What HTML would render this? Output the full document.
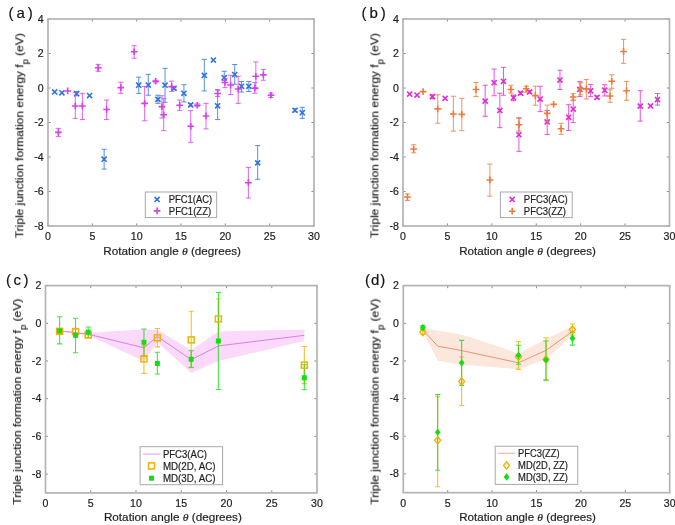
<!DOCTYPE html>
<html><head><meta charset="utf-8"><title>Triple junction formation energy</title>
<style>html,body{margin:0;padding:0;background:#fff;}body{width:675px;height:525px;overflow:hidden;font-family:"Liberation Sans",sans-serif;}svg{display:block;filter:blur(0.3px);} text{will-change:transform;stroke:#1e1e1e;stroke-width:0.2px;}</style>
</head><body>
<svg width="675" height="525" viewBox="0 0 675 525" font-family="Liberation Sans, sans-serif">
<rect width="675" height="525" fill="#fff"/>
<path d="M76.64 91.45L76.64 95.76M74.04 91.45L79.24 91.45M74.04 95.76L79.24 95.76" stroke="#2f74dc" stroke-width="1.0" fill="none" opacity="0.8"/><path d="M104.13 149.24L104.13 169.07M101.53 149.24L106.73 149.24M101.53 169.07L106.73 169.07" stroke="#2f74dc" stroke-width="1.0" fill="none" opacity="0.8"/><path d="M138.71 77.13L138.71 93.35M136.11 77.13L141.31 77.13M136.11 93.35L141.31 93.35" stroke="#2f74dc" stroke-width="1.0" fill="none" opacity="0.8"/><path d="M148.28 74.37L148.28 95.24M145.68 74.37L150.88 74.37M145.68 95.24L150.88 95.24" stroke="#2f74dc" stroke-width="1.0" fill="none" opacity="0.8"/><path d="M157.95 95.24L157.95 103.35M155.35 95.24L160.55 95.24M155.35 103.35L160.55 103.35" stroke="#2f74dc" stroke-width="1.0" fill="none" opacity="0.8"/><path d="M165.04 68.34L165.04 102.32M162.44 68.34L167.64 68.34M162.44 102.32L167.64 102.32" stroke="#2f74dc" stroke-width="1.0" fill="none" opacity="0.8"/><path d="M174 87.14L174 89.72M171.4 87.14L176.6 87.14M171.4 89.72L176.6 89.72" stroke="#2f74dc" stroke-width="1.0" fill="none" opacity="0.8"/><path d="M183.93 84.72L183.93 101.97M181.33 84.72L186.53 84.72M181.33 101.97L186.53 101.97" stroke="#2f74dc" stroke-width="1.0" fill="none" opacity="0.8"/><path d="M190.66 103.53L190.66 106.11M188.06 103.53L193.26 103.53M188.06 106.11L193.26 106.11" stroke="#2f74dc" stroke-width="1.0" fill="none" opacity="0.8"/><path d="M204.32 59.37L204.32 90.93M201.72 59.37L206.92 59.37M201.72 90.93L206.92 90.93" stroke="#2f74dc" stroke-width="1.0" fill="none" opacity="0.8"/><path d="M217.62 89.72L217.62 119.57M215.02 89.72L220.22 89.72M215.02 119.57L220.22 119.57" stroke="#2f74dc" stroke-width="1.0" fill="none" opacity="0.8"/><path d="M224.27 71.27L224.27 80.58M221.67 71.27L226.87 71.27M221.67 80.58L226.87 80.58" stroke="#2f74dc" stroke-width="1.0" fill="none" opacity="0.8"/><path d="M234.73 64.54L234.73 84.2M232.13 64.54L237.33 64.54M232.13 84.2L237.33 84.2" stroke="#2f74dc" stroke-width="1.0" fill="none" opacity="0.8"/><path d="M241.56 81.44L241.56 91.97M238.96 81.44L244.16 81.44M238.96 91.97L244.16 91.97" stroke="#2f74dc" stroke-width="1.0" fill="none" opacity="0.8"/><path d="M248.83 81.44L248.83 91.45M246.23 81.44L251.43 81.44M246.23 91.45L251.43 91.45" stroke="#2f74dc" stroke-width="1.0" fill="none" opacity="0.8"/><path d="M257.7 145.62L257.7 179.25M255.1 145.62L260.3 145.62M255.1 179.25L260.3 179.25" stroke="#2f74dc" stroke-width="1.0" fill="none" opacity="0.8"/><path d="M295.03 108.7L295.03 111.81M292.43 108.7L297.63 108.7M292.43 111.81L297.63 111.81" stroke="#2f74dc" stroke-width="1.0" fill="none" opacity="0.8"/><path d="M302.3 107.32L302.3 118.36M299.7 107.32L304.9 107.32M299.7 118.36L304.9 118.36" stroke="#2f74dc" stroke-width="1.0" fill="none" opacity="0.8"/><path d="M52.1 89.42L57.2 94.52M52.1 94.52L57.2 89.42" stroke="#2f74dc" stroke-width="1.6" fill="none"/><path d="M59.37 90.28L64.47 95.38M59.37 95.38L64.47 90.28" stroke="#2f74dc" stroke-width="1.6" fill="none"/><path d="M74.09 91.14L79.19 96.24M74.09 96.24L79.19 91.14" stroke="#2f74dc" stroke-width="1.6" fill="none"/><path d="M87.03 93.04L92.13 98.14M87.03 98.14L92.13 93.04" stroke="#2f74dc" stroke-width="1.6" fill="none"/><path d="M101.58 156.69L106.68 161.79M101.58 161.79L106.68 156.69" stroke="#2f74dc" stroke-width="1.6" fill="none"/><path d="M136.16 82.69L141.26 87.79M136.16 87.79L141.26 82.69" stroke="#2f74dc" stroke-width="1.6" fill="none"/><path d="M145.73 82.52L150.83 87.62M145.73 87.62L150.83 82.52" stroke="#2f74dc" stroke-width="1.6" fill="none"/><path d="M155.4 96.84L160.5 101.94M155.4 101.94L160.5 96.84" stroke="#2f74dc" stroke-width="1.6" fill="none"/><path d="M162.49 82.69L167.59 87.79M162.49 87.79L167.59 82.69" stroke="#2f74dc" stroke-width="1.6" fill="none"/><path d="M171.45 85.79L176.55 90.89M171.45 90.89L176.55 85.79" stroke="#2f74dc" stroke-width="1.6" fill="none"/><path d="M181.38 90.8L186.48 95.9M181.38 95.9L186.48 90.8" stroke="#2f74dc" stroke-width="1.6" fill="none"/><path d="M188.11 102.36L193.21 107.46M188.11 107.46L193.21 102.36" stroke="#2f74dc" stroke-width="1.6" fill="none"/><path d="M201.77 72.86L206.87 77.96M201.77 77.96L206.87 72.86" stroke="#2f74dc" stroke-width="1.6" fill="none"/><path d="M210.81 57.51L215.91 62.6M210.81 62.6L215.91 57.51" stroke="#2f74dc" stroke-width="1.6" fill="none"/><path d="M215.07 103.22L220.17 108.32M215.07 108.32L220.17 103.22" stroke="#2f74dc" stroke-width="1.6" fill="none"/><path d="M221.72 75.1L226.82 80.2M221.72 80.2L226.82 75.1" stroke="#2f74dc" stroke-width="1.6" fill="none"/><path d="M232.18 71.99L237.28 77.09M232.18 77.09L237.28 71.99" stroke="#2f74dc" stroke-width="1.6" fill="none"/><path d="M239.01 83.72L244.11 88.82M239.01 88.82L244.11 83.72" stroke="#2f74dc" stroke-width="1.6" fill="none"/><path d="M246.28 83.72L251.38 88.82M246.28 88.82L251.38 83.72" stroke="#2f74dc" stroke-width="1.6" fill="none"/><path d="M255.15 160.31L260.25 165.41M255.15 165.41L260.25 160.31" stroke="#2f74dc" stroke-width="1.6" fill="none"/><path d="M292.48 107.7L297.58 112.8M292.48 112.8L297.58 107.7" stroke="#2f74dc" stroke-width="1.6" fill="none"/><path d="M299.75 110.12L304.85 115.22M299.75 115.22L304.85 110.12" stroke="#2f74dc" stroke-width="1.6" fill="none"/>
<path d="M58.37 128.37L58.37 136.64M55.77 128.37L60.97 128.37M55.77 136.64L60.97 136.64" stroke="#d63ff0" stroke-width="1.0" fill="none" opacity="0.8"/><path d="M75.31 92.66L75.31 118.36M72.71 92.66L77.91 92.66M72.71 118.36L77.91 118.36" stroke="#d63ff0" stroke-width="1.0" fill="none" opacity="0.8"/><path d="M82.4 93.35L82.4 119.57M79.8 93.35L85 93.35M79.8 119.57L85 119.57" stroke="#d63ff0" stroke-width="1.0" fill="none" opacity="0.8"/><path d="M98.19 64.37L98.19 71.27M95.59 64.37L100.79 64.37M95.59 71.27L100.79 71.27" stroke="#d63ff0" stroke-width="1.0" fill="none" opacity="0.8"/><path d="M106.61 100.08L106.61 119.57M104.01 100.08L109.21 100.08M104.01 119.57L109.21 119.57" stroke="#d63ff0" stroke-width="1.0" fill="none" opacity="0.8"/><path d="M120.8 82.13L120.8 93.35M118.2 82.13L123.4 82.13M118.2 93.35L123.4 93.35" stroke="#d63ff0" stroke-width="1.0" fill="none" opacity="0.8"/><path d="M134.18 45.74L134.18 58.16M131.58 45.74L136.78 45.74M131.58 58.16L136.78 58.16" stroke="#d63ff0" stroke-width="1.0" fill="none" opacity="0.8"/><path d="M144.65 86.45L144.65 120.78M142.05 86.45L147.25 86.45M142.05 120.78L147.25 120.78" stroke="#d63ff0" stroke-width="1.0" fill="none" opacity="0.8"/><path d="M155.64 80.24L155.64 82.83M153.04 80.24L158.24 80.24M153.04 82.83L158.24 82.83" stroke="#d63ff0" stroke-width="1.0" fill="none" opacity="0.8"/><path d="M161.94 95.76L161.94 118.02M159.34 95.76L164.54 95.76M159.34 118.02L164.54 118.02" stroke="#d63ff0" stroke-width="1.0" fill="none" opacity="0.8"/><path d="M163.71 98.7L163.71 130.61M161.11 98.7L166.31 98.7M161.11 130.61L166.31 130.61" stroke="#d63ff0" stroke-width="1.0" fill="none" opacity="0.8"/><path d="M171.69 81.1L171.69 91.45M169.09 81.1L174.29 81.1M169.09 91.45L174.29 91.45" stroke="#d63ff0" stroke-width="1.0" fill="none" opacity="0.8"/><path d="M179.67 100.08L179.67 110.42M177.07 100.08L182.27 100.08M177.07 110.42L182.27 110.42" stroke="#d63ff0" stroke-width="1.0" fill="none" opacity="0.8"/><path d="M190.75 110.6L190.75 142.34M188.15 110.6L193.35 110.6M188.15 142.34L193.35 142.34" stroke="#d63ff0" stroke-width="1.0" fill="none" opacity="0.8"/><path d="M197.31 103.87L197.31 106.63M194.71 103.87L199.91 103.87M194.71 106.63L199.91 106.63" stroke="#d63ff0" stroke-width="1.0" fill="none" opacity="0.8"/><path d="M206 103.35L206 128.88M203.4 103.35L208.6 103.35M203.4 128.88L208.6 128.88" stroke="#d63ff0" stroke-width="1.0" fill="none" opacity="0.8"/><path d="M217.62 90.07L217.62 96.62M215.02 90.07L220.22 90.07M215.02 96.62L220.22 96.62" stroke="#d63ff0" stroke-width="1.0" fill="none" opacity="0.8"/><path d="M224.89 78.51L224.89 87.66M222.29 78.51L227.49 78.51M222.29 87.66L227.49 87.66" stroke="#d63ff0" stroke-width="1.0" fill="none" opacity="0.8"/><path d="M230.65 75.23L230.65 94.55M228.05 75.23L233.25 75.23M228.05 94.55L233.25 94.55" stroke="#d63ff0" stroke-width="1.0" fill="none" opacity="0.8"/><path d="M238.19 76.27L238.19 103.35M235.59 76.27L240.79 76.27M235.59 103.35L240.79 103.35" stroke="#d63ff0" stroke-width="1.0" fill="none" opacity="0.8"/><path d="M248.39 167.35L248.39 198.05M245.79 167.35L250.99 167.35M245.79 198.05L250.99 198.05" stroke="#d63ff0" stroke-width="1.0" fill="none" opacity="0.8"/><path d="M254.86 82.48L254.86 93.35M252.26 82.48L257.46 82.48M252.26 93.35L257.46 93.35" stroke="#d63ff0" stroke-width="1.0" fill="none" opacity="0.8"/><path d="M255.83 61.95L255.83 88.86M253.23 61.95L258.43 61.95M253.23 88.86L258.43 88.86" stroke="#d63ff0" stroke-width="1.0" fill="none" opacity="0.8"/><path d="M263.37 69.54L263.37 80.24M260.77 69.54L265.97 69.54M260.77 80.24L265.97 80.24" stroke="#d63ff0" stroke-width="1.0" fill="none" opacity="0.8"/><path d="M271 93.17L271 97.49M268.4 93.17L273.6 93.17M268.4 97.49L273.6 97.49" stroke="#d63ff0" stroke-width="1.0" fill="none" opacity="0.8"/><path d="M55.02 132.33L61.72 132.33M58.37 128.98L58.37 135.68" stroke="#d63ff0" stroke-width="1.6" fill="none"/><path d="M64.33 90.93L71.03 90.93M67.68 87.58L67.68 94.28" stroke="#d63ff0" stroke-width="1.6" fill="none"/><path d="M71.96 105.94L78.66 105.94M75.31 102.59L75.31 109.29" stroke="#d63ff0" stroke-width="1.6" fill="none"/><path d="M79.05 105.94L85.75 105.94M82.4 102.59L82.4 109.29" stroke="#d63ff0" stroke-width="1.6" fill="none"/><path d="M94.84 67.82L101.54 67.82M98.19 64.47L98.19 71.17" stroke="#d63ff0" stroke-width="1.6" fill="none"/><path d="M103.26 109.56L109.96 109.56M106.61 106.21L106.61 112.91" stroke="#d63ff0" stroke-width="1.6" fill="none"/><path d="M117.45 87.66L124.15 87.66M120.8 84.31L120.8 91" stroke="#d63ff0" stroke-width="1.6" fill="none"/><path d="M130.83 51.77L137.53 51.77M134.18 48.42L134.18 55.12" stroke="#d63ff0" stroke-width="1.6" fill="none"/><path d="M141.3 103.35L148 103.35M144.65 100L144.65 106.7" stroke="#d63ff0" stroke-width="1.6" fill="none"/><path d="M152.29 81.27L158.99 81.27M155.64 77.92L155.64 84.62" stroke="#d63ff0" stroke-width="1.6" fill="none"/><path d="M158.59 106.63L165.29 106.63M161.94 103.28L161.94 109.98" stroke="#d63ff0" stroke-width="1.6" fill="none"/><path d="M160.36 114.74L167.06 114.74M163.71 111.39L163.71 118.09" stroke="#d63ff0" stroke-width="1.6" fill="none"/><path d="M168.34 86.62L175.04 86.62M171.69 83.27L171.69 89.97" stroke="#d63ff0" stroke-width="1.6" fill="none"/><path d="M176.32 105.25L183.02 105.25M179.67 101.9L179.67 108.6" stroke="#d63ff0" stroke-width="1.6" fill="none"/><path d="M187.4 126.3L194.1 126.3M190.75 122.95L190.75 129.65" stroke="#d63ff0" stroke-width="1.6" fill="none"/><path d="M193.96 105.25L200.66 105.25M197.31 101.9L197.31 108.6" stroke="#d63ff0" stroke-width="1.6" fill="none"/><path d="M202.65 115.94L209.35 115.94M206 112.59L206 119.29" stroke="#d63ff0" stroke-width="1.6" fill="none"/><path d="M214.27 93.52L220.97 93.52M217.62 90.17L217.62 96.87" stroke="#d63ff0" stroke-width="1.6" fill="none"/><path d="M221.54 82.48L228.24 82.48M224.89 79.13L224.89 85.83" stroke="#d63ff0" stroke-width="1.6" fill="none"/><path d="M227.3 85.07L234 85.07M230.65 81.72L230.65 88.42" stroke="#d63ff0" stroke-width="1.6" fill="none"/><path d="M234.84 89.03L241.54 89.03M238.19 85.69L238.19 92.38" stroke="#d63ff0" stroke-width="1.6" fill="none"/><path d="M245.04 182.7L251.74 182.7M248.39 179.35L248.39 186.05" stroke="#d63ff0" stroke-width="1.6" fill="none"/><path d="M251.51 88.17L258.21 88.17M254.86 84.82L254.86 91.52" stroke="#d63ff0" stroke-width="1.6" fill="none"/><path d="M252.48 76.27L259.18 76.27M255.83 72.92L255.83 79.62" stroke="#d63ff0" stroke-width="1.6" fill="none"/><path d="M260.02 74.89L266.72 74.89M263.37 71.54L263.37 78.24" stroke="#d63ff0" stroke-width="1.6" fill="none"/><path d="M267.65 95.24L274.35 95.24M271 91.89L271 98.59" stroke="#d63ff0" stroke-width="1.6" fill="none"/>
<g stroke="#8c8c8c" stroke-width="1"><line x1="48" y1="226" x2="48" y2="223.4"/><line x1="48" y1="19" x2="48" y2="21.6"/><line x1="92.33" y1="226" x2="92.33" y2="223.4"/><line x1="92.33" y1="19" x2="92.33" y2="21.6"/><line x1="136.67" y1="226" x2="136.67" y2="223.4"/><line x1="136.67" y1="19" x2="136.67" y2="21.6"/><line x1="181" y1="226" x2="181" y2="223.4"/><line x1="181" y1="19" x2="181" y2="21.6"/><line x1="225.33" y1="226" x2="225.33" y2="223.4"/><line x1="225.33" y1="19" x2="225.33" y2="21.6"/><line x1="269.67" y1="226" x2="269.67" y2="223.4"/><line x1="269.67" y1="19" x2="269.67" y2="21.6"/><line x1="314" y1="226" x2="314" y2="223.4"/><line x1="314" y1="19" x2="314" y2="21.6"/><line x1="48" y1="19" x2="50.6" y2="19"/><line x1="314" y1="19" x2="311.4" y2="19"/><line x1="48" y1="53.5" x2="50.6" y2="53.5"/><line x1="314" y1="53.5" x2="311.4" y2="53.5"/><line x1="48" y1="88" x2="50.6" y2="88"/><line x1="314" y1="88" x2="311.4" y2="88"/><line x1="48" y1="122.5" x2="50.6" y2="122.5"/><line x1="314" y1="122.5" x2="311.4" y2="122.5"/><line x1="48" y1="157" x2="50.6" y2="157"/><line x1="314" y1="157" x2="311.4" y2="157"/><line x1="48" y1="191.5" x2="50.6" y2="191.5"/><line x1="314" y1="191.5" x2="311.4" y2="191.5"/><line x1="48" y1="226" x2="50.6" y2="226"/><line x1="314" y1="226" x2="311.4" y2="226"/></g>
<rect x="48" y="19" width="266" height="207" fill="none" stroke="#b4b4b4" stroke-width="1.7"/>
<g font-size="10.6" fill="#1e1e1e"><text x="43.6" y="22.6" text-anchor="end">4</text><text x="43.6" y="57.1" text-anchor="end">2</text><text x="43.6" y="91.6" text-anchor="end">0</text><text x="43.6" y="126.1" text-anchor="end"><tspan dy="-0.8">-</tspan><tspan dy="0.8">2</tspan></text><text x="43.6" y="160.6" text-anchor="end"><tspan dy="-0.8">-</tspan><tspan dy="0.8">4</tspan></text><text x="43.6" y="195.1" text-anchor="end"><tspan dy="-0.8">-</tspan><tspan dy="0.8">6</tspan></text><text x="43.6" y="229.6" text-anchor="end"><tspan dy="-0.8">-</tspan><tspan dy="0.8">8</tspan></text><text x="48" y="240" text-anchor="middle">0</text><text x="92.33" y="240" text-anchor="middle">5</text><text x="136.67" y="240" text-anchor="middle">10</text><text x="181" y="240" text-anchor="middle">15</text><text x="225.33" y="240" text-anchor="middle">20</text><text x="269.67" y="240" text-anchor="middle">25</text><text x="314" y="240" text-anchor="middle">30</text></g>
<text x="103.3" y="255.2" font-size="11.4" fill="#1e1e1e" textLength="137.7" lengthAdjust="spacingAndGlyphs">Rotation angle <tspan font-family="Liberation Serif" font-style="italic">&#952;</tspan> (degrees)</text>
<text transform="translate(23.3 238.2) rotate(-90)" font-size="11.4" fill="#1e1e1e" textLength="204.9" lengthAdjust="spacingAndGlyphs">Triple junction formation energy f<tspan dy="4.8" font-size="9">p</tspan><tspan dy="-4.8"> (eV)</tspan></text>
<rect x="145.3" y="192" width="71.4" height="25.6" fill="#fff" stroke="#a8a8a8" stroke-width="1"/>
<path d="M154.55 196.85L159.65 201.95M154.55 201.95L159.65 196.85" stroke="#2f74dc" stroke-width="1.6" fill="none"/>
<path d="M153.75 210.9L160.45 210.9M157.1 207.55L157.1 214.25" stroke="#d63ff0" stroke-width="1.6" fill="none"/>
<text x="168.8" y="203" font-size="10" fill="#1e1e1e" textLength="43.4" lengthAdjust="spacingAndGlyphs">PFC1(AC)</text>
<text x="168.8" y="214.5" font-size="10" fill="#1e1e1e" textLength="42.4" lengthAdjust="spacingAndGlyphs">PFC1(ZZ)</text>
<path d="M432.4 94.9L432.4 98.7M429.8 94.9L435 94.9M429.8 98.7L435 98.7" stroke="#e02ad6" stroke-width="1.0" fill="none" opacity="0.8"/><path d="M485.17 85.24L485.17 116.29M482.57 85.24L487.77 85.24M482.57 116.29L487.77 116.29" stroke="#e02ad6" stroke-width="1.0" fill="none" opacity="0.8"/><path d="M494.14 69.03L494.14 95.76M491.54 69.03L496.74 69.03M491.54 95.76L496.74 95.76" stroke="#e02ad6" stroke-width="1.0" fill="none" opacity="0.8"/><path d="M499.83 93.17L499.83 127.67M497.23 93.17L502.43 93.17M497.23 127.67L502.43 127.67" stroke="#e02ad6" stroke-width="1.0" fill="none" opacity="0.8"/><path d="M503.47 67.3L503.47 95.24M500.87 67.3L506.07 67.3M500.87 95.24L506.07 95.24" stroke="#e02ad6" stroke-width="1.0" fill="none" opacity="0.8"/><path d="M513.51 95.07L513.51 100.77M510.91 95.07L516.11 95.07M510.91 100.77L516.11 100.77" stroke="#e02ad6" stroke-width="1.0" fill="none" opacity="0.8"/><path d="M518.93 118.19L518.93 151.31M516.33 118.19L521.53 118.19M516.33 151.31L521.53 151.31" stroke="#e02ad6" stroke-width="1.0" fill="none" opacity="0.8"/><path d="M520.62 91.8L520.62 94.55M518.02 91.8L523.22 91.8M518.02 94.55L523.22 94.55" stroke="#e02ad6" stroke-width="1.0" fill="none" opacity="0.8"/><path d="M529.59 90.59L529.59 93.35M526.99 90.59L532.19 90.59M526.99 93.35L532.19 93.35" stroke="#e02ad6" stroke-width="1.0" fill="none" opacity="0.8"/><path d="M540.16 86.27L540.16 111.63M537.56 86.27L542.76 86.27M537.56 111.63L542.76 111.63" stroke="#e02ad6" stroke-width="1.0" fill="none" opacity="0.8"/><path d="M547.18 110.42L547.18 134.57M544.58 110.42L549.78 110.42M544.58 134.57L549.78 134.57" stroke="#e02ad6" stroke-width="1.0" fill="none" opacity="0.8"/><path d="M559.97 70.23L559.97 89.38M557.37 70.23L562.57 70.23M557.37 89.38L562.57 89.38" stroke="#e02ad6" stroke-width="1.0" fill="none" opacity="0.8"/><path d="M568.67 104.73L568.67 130.44M566.07 104.73L571.27 104.73M566.07 130.44L571.27 130.44" stroke="#e02ad6" stroke-width="1.0" fill="none" opacity="0.8"/><path d="M573.2 100.08L573.2 122.67M570.6 100.08L575.8 100.08M570.6 122.67L575.8 122.67" stroke="#e02ad6" stroke-width="1.0" fill="none" opacity="0.8"/><path d="M579.87 81.62L579.87 96.62M577.27 81.62L582.47 81.62M577.27 96.62L582.47 96.62" stroke="#e02ad6" stroke-width="1.0" fill="none" opacity="0.8"/><path d="M590.62 84.38L590.62 96.62M588.02 84.38L593.22 84.38M588.02 96.62L593.22 96.62" stroke="#e02ad6" stroke-width="1.0" fill="none" opacity="0.8"/><path d="M597.01 95.94L597.01 98.7M594.41 95.94L599.61 95.94M594.41 98.7L599.61 98.7" stroke="#e02ad6" stroke-width="1.0" fill="none" opacity="0.8"/><path d="M604.74 84.72L604.74 95.94M602.14 84.72L607.34 84.72M602.14 95.94L607.34 95.94" stroke="#e02ad6" stroke-width="1.0" fill="none" opacity="0.8"/><path d="M640.27 90.76L640.27 121.12M637.67 90.76L642.87 90.76M637.67 121.12L642.87 121.12" stroke="#e02ad6" stroke-width="1.0" fill="none" opacity="0.8"/><path d="M657.51 93.52L657.51 105.08M654.91 93.52L660.11 93.52M654.91 105.08L660.11 105.08" stroke="#e02ad6" stroke-width="1.0" fill="none" opacity="0.8"/><path d="M407.11 91.49L412.21 96.59M407.11 96.59L412.21 91.49" stroke="#e02ad6" stroke-width="1.6" fill="none"/><path d="M414.49 92.52L419.59 97.62M414.49 97.62L419.59 92.52" stroke="#e02ad6" stroke-width="1.6" fill="none"/><path d="M429.85 94.08L434.95 99.17M429.85 99.17L434.95 94.08" stroke="#e02ad6" stroke-width="1.6" fill="none"/><path d="M442.56 95.8L447.66 100.9M442.56 100.9L447.66 95.8" stroke="#e02ad6" stroke-width="1.6" fill="none"/><path d="M482.62 98.56L487.72 103.66M482.62 103.66L487.72 98.56" stroke="#e02ad6" stroke-width="1.6" fill="none"/><path d="M491.59 80.1L496.69 85.2M491.59 85.2L496.69 80.1" stroke="#e02ad6" stroke-width="1.6" fill="none"/><path d="M497.28 107.88L502.38 112.97M497.28 112.97L502.38 107.88" stroke="#e02ad6" stroke-width="1.6" fill="none"/><path d="M500.92 78.72L506.02 83.82M500.92 83.82L506.02 78.72" stroke="#e02ad6" stroke-width="1.6" fill="none"/><path d="M510.96 95.11L516.06 100.21M510.96 100.21L516.06 95.11" stroke="#e02ad6" stroke-width="1.6" fill="none"/><path d="M516.38 132.2L521.48 137.3M516.38 137.3L521.48 132.2" stroke="#e02ad6" stroke-width="1.6" fill="none"/><path d="M518.07 90.62L523.17 95.72M518.07 95.72L523.17 90.62" stroke="#e02ad6" stroke-width="1.6" fill="none"/><path d="M527.04 89.42L532.14 94.52M527.04 94.52L532.14 89.42" stroke="#e02ad6" stroke-width="1.6" fill="none"/><path d="M537.61 96.49L542.71 101.59M537.61 101.59L542.71 96.49" stroke="#e02ad6" stroke-width="1.6" fill="none"/><path d="M544.63 119.43L549.73 124.53M544.63 124.53L549.73 119.43" stroke="#e02ad6" stroke-width="1.6" fill="none"/><path d="M557.42 77.52L562.52 82.61M557.42 82.61L562.52 77.52" stroke="#e02ad6" stroke-width="1.6" fill="none"/><path d="M566.12 114.78L571.22 119.88M566.12 119.88L571.22 114.78" stroke="#e02ad6" stroke-width="1.6" fill="none"/><path d="M570.65 106.5L575.75 111.59M570.65 111.59L575.75 106.5" stroke="#e02ad6" stroke-width="1.6" fill="none"/><path d="M577.32 86.83L582.42 91.93M577.32 91.93L582.42 86.83" stroke="#e02ad6" stroke-width="1.6" fill="none"/><path d="M588.07 88.21L593.17 93.31M588.07 93.31L593.17 88.21" stroke="#e02ad6" stroke-width="1.6" fill="none"/><path d="M594.46 94.77L599.56 99.86M594.46 99.86L599.56 94.77" stroke="#e02ad6" stroke-width="1.6" fill="none"/><path d="M602.19 87.69L607.29 92.79M602.19 92.79L607.29 87.69" stroke="#e02ad6" stroke-width="1.6" fill="none"/><path d="M637.72 103.56L642.82 108.66M637.72 108.66L642.82 103.56" stroke="#e02ad6" stroke-width="1.6" fill="none"/><path d="M648.03 103.39L653.13 108.49M648.03 108.49L653.13 103.39" stroke="#e02ad6" stroke-width="1.6" fill="none"/><path d="M654.96 97.01L660.06 102.11M654.96 102.11L660.06 97.01" stroke="#e02ad6" stroke-width="1.6" fill="none"/>
<path d="M407.44 193.91L407.44 200.47M404.84 193.91L410.04 193.91M404.84 200.47L410.04 200.47" stroke="#ef7a3a" stroke-width="1.0" fill="none" opacity="0.8"/><path d="M413.66 144.75L413.66 152.86M411.06 144.75L416.26 144.75M411.06 152.86L416.26 152.86" stroke="#ef7a3a" stroke-width="1.0" fill="none" opacity="0.8"/><path d="M437.73 94.73L437.73 123.19M435.13 94.73L440.33 94.73M435.13 123.19L440.33 123.19" stroke="#ef7a3a" stroke-width="1.0" fill="none" opacity="0.8"/><path d="M453.37 96.28L453.37 131.12M450.77 96.28L455.97 96.28M450.77 131.12L455.97 131.12" stroke="#ef7a3a" stroke-width="1.0" fill="none" opacity="0.8"/><path d="M461.81 98.35L461.81 130.61M459.21 98.35L464.41 98.35M459.21 130.61L464.41 130.61" stroke="#ef7a3a" stroke-width="1.0" fill="none" opacity="0.8"/><path d="M476.02 82.48L476.02 96.62M473.42 82.48L478.62 82.48M473.42 96.62L478.62 96.62" stroke="#ef7a3a" stroke-width="1.0" fill="none" opacity="0.8"/><path d="M489.88 164.07L489.88 196.16M487.28 164.07L492.48 164.07M487.28 196.16L492.48 196.16" stroke="#ef7a3a" stroke-width="1.0" fill="none" opacity="0.8"/><path d="M510.84 85.24L510.84 93.17M508.24 85.24L513.44 85.24M508.24 93.17L513.44 93.17" stroke="#ef7a3a" stroke-width="1.0" fill="none" opacity="0.8"/><path d="M518.93 117.67L518.93 131.12M516.33 117.67L521.53 117.67M516.33 131.12L521.53 131.12" stroke="#ef7a3a" stroke-width="1.0" fill="none" opacity="0.8"/><path d="M526.21 86.27L526.21 92.31M523.61 86.27L528.81 86.27M523.61 92.31L528.81 92.31" stroke="#ef7a3a" stroke-width="1.0" fill="none" opacity="0.8"/><path d="M535.36 86.27L535.36 105.25M532.76 86.27L537.96 86.27M532.76 105.25L537.96 105.25" stroke="#ef7a3a" stroke-width="1.0" fill="none" opacity="0.8"/><path d="M547.18 105.08L547.18 121.64M544.58 105.08L549.78 105.08M544.58 121.64L549.78 121.64" stroke="#ef7a3a" stroke-width="1.0" fill="none" opacity="0.8"/><path d="M561.12 123.36L561.12 134.4M558.52 123.36L563.72 123.36M558.52 134.4L563.72 134.4" stroke="#ef7a3a" stroke-width="1.0" fill="none" opacity="0.8"/><path d="M573.2 93.69L573.2 100.59M570.6 93.69L575.8 93.69M570.6 100.59L575.8 100.59" stroke="#ef7a3a" stroke-width="1.0" fill="none" opacity="0.8"/><path d="M580.67 82.83L580.67 94.9M578.07 82.83L583.27 82.83M578.07 94.9L583.27 94.9" stroke="#ef7a3a" stroke-width="1.0" fill="none" opacity="0.8"/><path d="M586.35 79.55L586.35 99.04M583.75 79.55L588.95 79.55M583.75 99.04L588.95 99.04" stroke="#ef7a3a" stroke-width="1.0" fill="none" opacity="0.8"/><path d="M610.07 89.72L610.07 102.32M607.47 89.72L612.67 89.72M607.47 102.32L612.67 102.32" stroke="#ef7a3a" stroke-width="1.0" fill="none" opacity="0.8"/><path d="M611.76 74.72L611.76 88.34M609.16 74.72L614.36 74.72M609.16 88.34L614.36 88.34" stroke="#ef7a3a" stroke-width="1.0" fill="none" opacity="0.8"/><path d="M623.57 39.36L623.57 63.33M620.97 39.36L626.17 39.36M620.97 63.33L626.17 63.33" stroke="#ef7a3a" stroke-width="1.0" fill="none" opacity="0.8"/><path d="M626.5 81.44L626.5 100.25M623.9 81.44L629.1 81.44M623.9 100.25L629.1 100.25" stroke="#ef7a3a" stroke-width="1.0" fill="none" opacity="0.8"/><path d="M404.09 197.02L410.79 197.02M407.44 193.67L407.44 200.37" stroke="#ef7a3a" stroke-width="1.6" fill="none"/><path d="M410.31 149.06L417.01 149.06M413.66 145.72L413.66 152.41" stroke="#ef7a3a" stroke-width="1.6" fill="none"/><path d="M419.73 91.62L426.43 91.62M423.08 88.27L423.08 94.97" stroke="#ef7a3a" stroke-width="1.6" fill="none"/><path d="M434.38 108.87L441.08 108.87M437.73 105.52L437.73 112.22" stroke="#ef7a3a" stroke-width="1.6" fill="none"/><path d="M450.02 114.05L456.72 114.05M453.37 110.7L453.37 117.4" stroke="#ef7a3a" stroke-width="1.6" fill="none"/><path d="M458.46 114.39L465.16 114.39M461.81 111.04L461.81 117.74" stroke="#ef7a3a" stroke-width="1.6" fill="none"/><path d="M472.67 89.55L479.37 89.55M476.02 86.2L476.02 92.9" stroke="#ef7a3a" stroke-width="1.6" fill="none"/><path d="M486.53 179.94L493.23 179.94M489.88 176.59L489.88 183.29" stroke="#ef7a3a" stroke-width="1.6" fill="none"/><path d="M507.49 89.55L514.19 89.55M510.84 86.2L510.84 92.9" stroke="#ef7a3a" stroke-width="1.6" fill="none"/><path d="M515.58 124.74L522.28 124.74M518.93 121.39L518.93 128.09" stroke="#ef7a3a" stroke-width="1.6" fill="none"/><path d="M522.86 88.69L529.56 88.69M526.21 85.34L526.21 92.04" stroke="#ef7a3a" stroke-width="1.6" fill="none"/><path d="M532.01 95.59L538.71 95.59M535.36 92.24L535.36 98.94" stroke="#ef7a3a" stroke-width="1.6" fill="none"/><path d="M543.83 113.36L550.53 113.36M547.18 110.01L547.18 116.71" stroke="#ef7a3a" stroke-width="1.6" fill="none"/><path d="M550.31 104.39L557.01 104.39M553.66 101.04L553.66 107.74" stroke="#ef7a3a" stroke-width="1.6" fill="none"/><path d="M557.77 128.71L564.47 128.71M561.12 125.36L561.12 132.06" stroke="#ef7a3a" stroke-width="1.6" fill="none"/><path d="M569.85 96.97L576.55 96.97M573.2 93.62L573.2 100.32" stroke="#ef7a3a" stroke-width="1.6" fill="none"/><path d="M577.32 88.69L584.02 88.69M580.67 85.34L580.67 92.04" stroke="#ef7a3a" stroke-width="1.6" fill="none"/><path d="M583 88.86L589.7 88.86M586.35 85.51L586.35 92.21" stroke="#ef7a3a" stroke-width="1.6" fill="none"/><path d="M606.72 95.94L613.42 95.94M610.07 92.59L610.07 99.28" stroke="#ef7a3a" stroke-width="1.6" fill="none"/><path d="M608.41 81.27L615.11 81.27M611.76 77.92L611.76 84.62" stroke="#ef7a3a" stroke-width="1.6" fill="none"/><path d="M620.22 51.43L626.92 51.43M623.57 48.08L623.57 54.78" stroke="#ef7a3a" stroke-width="1.6" fill="none"/><path d="M623.15 90.76L629.85 90.76M626.5 87.41L626.5 94.11" stroke="#ef7a3a" stroke-width="1.6" fill="none"/>
<g stroke="#8c8c8c" stroke-width="1"><line x1="403" y1="226" x2="403" y2="223.4"/><line x1="403" y1="19" x2="403" y2="21.6"/><line x1="447.42" y1="226" x2="447.42" y2="223.4"/><line x1="447.42" y1="19" x2="447.42" y2="21.6"/><line x1="491.83" y1="226" x2="491.83" y2="223.4"/><line x1="491.83" y1="19" x2="491.83" y2="21.6"/><line x1="536.25" y1="226" x2="536.25" y2="223.4"/><line x1="536.25" y1="19" x2="536.25" y2="21.6"/><line x1="580.67" y1="226" x2="580.67" y2="223.4"/><line x1="580.67" y1="19" x2="580.67" y2="21.6"/><line x1="625.08" y1="226" x2="625.08" y2="223.4"/><line x1="625.08" y1="19" x2="625.08" y2="21.6"/><line x1="669.5" y1="226" x2="669.5" y2="223.4"/><line x1="669.5" y1="19" x2="669.5" y2="21.6"/><line x1="403" y1="19" x2="405.6" y2="19"/><line x1="669.5" y1="19" x2="666.9" y2="19"/><line x1="403" y1="53.5" x2="405.6" y2="53.5"/><line x1="669.5" y1="53.5" x2="666.9" y2="53.5"/><line x1="403" y1="88" x2="405.6" y2="88"/><line x1="669.5" y1="88" x2="666.9" y2="88"/><line x1="403" y1="122.5" x2="405.6" y2="122.5"/><line x1="669.5" y1="122.5" x2="666.9" y2="122.5"/><line x1="403" y1="157" x2="405.6" y2="157"/><line x1="669.5" y1="157" x2="666.9" y2="157"/><line x1="403" y1="191.5" x2="405.6" y2="191.5"/><line x1="669.5" y1="191.5" x2="666.9" y2="191.5"/><line x1="403" y1="226" x2="405.6" y2="226"/><line x1="669.5" y1="226" x2="666.9" y2="226"/></g>
<rect x="403" y="19" width="266.5" height="207" fill="none" stroke="#b4b4b4" stroke-width="1.7"/>
<g font-size="10.6" fill="#1e1e1e"><text x="399" y="22.6" text-anchor="end">4</text><text x="399" y="57.1" text-anchor="end">2</text><text x="399" y="91.6" text-anchor="end">0</text><text x="399" y="126.1" text-anchor="end"><tspan dy="-0.8">-</tspan><tspan dy="0.8">2</tspan></text><text x="399" y="160.6" text-anchor="end"><tspan dy="-0.8">-</tspan><tspan dy="0.8">4</tspan></text><text x="399" y="195.1" text-anchor="end"><tspan dy="-0.8">-</tspan><tspan dy="0.8">6</tspan></text><text x="399" y="229.6" text-anchor="end"><tspan dy="-0.8">-</tspan><tspan dy="0.8">8</tspan></text><text x="403" y="240" text-anchor="middle">0</text><text x="447.42" y="240" text-anchor="middle">5</text><text x="491.83" y="240" text-anchor="middle">10</text><text x="536.25" y="240" text-anchor="middle">15</text><text x="580.67" y="240" text-anchor="middle">20</text><text x="625.08" y="240" text-anchor="middle">25</text><text x="669.5" y="240" text-anchor="middle">30</text></g>
<text x="459.2" y="255.2" font-size="11.4" fill="#1e1e1e" textLength="136.8" lengthAdjust="spacingAndGlyphs">Rotation angle <tspan font-family="Liberation Serif" font-style="italic">&#952;</tspan> (degrees)</text>
<text transform="translate(378.4 238.2) rotate(-90)" font-size="11.4" fill="#1e1e1e" textLength="204.9" lengthAdjust="spacingAndGlyphs">Triple junction formation energy f<tspan dy="4.8" font-size="9">p</tspan><tspan dy="-4.8"> (eV)</tspan></text>
<rect x="500.4" y="192" width="71.8" height="25.6" fill="#fff" stroke="#a8a8a8" stroke-width="1"/>
<path d="M509.65 196.85L514.75 201.95M509.65 201.95L514.75 196.85" stroke="#e02ad6" stroke-width="1.6" fill="none"/>
<path d="M508.85 211.2L515.55 211.2M512.2 207.85L512.2 214.55" stroke="#ef7a3a" stroke-width="1.6" fill="none"/>
<text x="523.8" y="203" font-size="10" fill="#1e1e1e" textLength="44" lengthAdjust="spacingAndGlyphs">PFC3(AC)</text>
<text x="523.8" y="214.8" font-size="10" fill="#1e1e1e" textLength="42.2" lengthAdjust="spacingAndGlyphs">PFC3(ZZ)</text>
<polygon points="59.62,330.45 75.55,331.77 88.22,333.09 143.96,329.32 157.36,330.08 191.21,350.05 218.36,331.39 304.33,329.51 304.33,341.01 218.36,360.98 191.21,373.04 157.36,342.14 143.96,361.36 88.22,335.35 75.55,333.66 59.62,331.21" fill="#fbd9fa" stroke="none"/>
<polyline points="59.62,330.83 75.55,332.71 88.22,334.22 143.96,347.79 157.36,336.48 191.21,359.66 218.36,345.91 304.33,335.35" fill="none" stroke="#da80e4" stroke-width="1.0"/>
<path d="M59.62 328.94L59.62 333.66M57.02 328.94L62.22 328.94M57.02 333.66L62.22 333.66" stroke="#f2b000" stroke-width="1.1" fill="none" opacity="0.8"/><path d="M75.55 328.94L75.55 334.6M72.95 328.94L78.15 328.94M72.95 334.6L78.15 334.6" stroke="#f2b000" stroke-width="1.1" fill="none" opacity="0.8"/><path d="M88.22 331.77L88.22 337.43M85.62 331.77L90.82 331.77M85.62 337.43L90.82 337.43" stroke="#f2b000" stroke-width="1.1" fill="none" opacity="0.8"/><path d="M143.96 345.91L143.96 373.42M141.36 345.91L146.56 345.91M141.36 373.42L146.56 373.42" stroke="#f2b000" stroke-width="1.1" fill="none" opacity="0.8"/><path d="M157.36 328.57L157.36 346.85M154.76 328.57L159.96 328.57M154.76 346.85L159.96 346.85" stroke="#f2b000" stroke-width="1.1" fill="none" opacity="0.8"/><path d="M191.21 311.23L191.21 367.77M188.61 311.23L193.81 311.23M188.61 367.77L193.81 367.77" stroke="#f2b000" stroke-width="1.1" fill="none" opacity="0.8"/><path d="M218.36 298.98L218.36 342.14M215.76 298.98L220.96 298.98M215.76 342.14L220.96 342.14" stroke="#f2b000" stroke-width="1.1" fill="none" opacity="0.8"/><path d="M304.33 346.47L304.33 383.6M301.73 346.47L306.93 346.47M301.73 383.6L306.93 383.6" stroke="#f2b000" stroke-width="1.1" fill="none" opacity="0.8"/><path d="M59.62 316.69L59.62 343.83M57.02 316.69L62.22 316.69M57.02 343.83L62.22 343.83" stroke="#10e010" stroke-width="1.1" fill="none" opacity="0.8"/><path d="M75.55 318.2L75.55 352.69M72.95 318.2L78.15 318.2M72.95 352.69L78.15 352.69" stroke="#10e010" stroke-width="1.1" fill="none" opacity="0.8"/><path d="M88.22 327.06L88.22 337.43M85.62 327.06L90.82 327.06M85.62 337.43L90.82 337.43" stroke="#10e010" stroke-width="1.1" fill="none" opacity="0.8"/><path d="M143.96 328.94L143.96 356.27M141.36 328.94L146.56 328.94M141.36 356.27L146.56 356.27" stroke="#10e010" stroke-width="1.1" fill="none" opacity="0.8"/><path d="M157.36 352.31L157.36 373.99M154.76 352.31L159.96 352.31M154.76 373.99L159.96 373.99" stroke="#10e010" stroke-width="1.1" fill="none" opacity="0.8"/><path d="M191.21 350.81L191.21 367.2M188.61 350.81L193.81 350.81M188.61 367.2L193.81 367.2" stroke="#10e010" stroke-width="1.1" fill="none" opacity="0.8"/><path d="M218.36 292.57L218.36 389.44M215.76 292.57L220.96 292.57M215.76 389.44L220.96 389.44" stroke="#10e010" stroke-width="1.1" fill="none" opacity="0.8"/><path d="M304.33 364.75L304.33 389.82M301.73 364.75L306.93 364.75M301.73 389.82L306.93 389.82" stroke="#10e010" stroke-width="1.1" fill="none" opacity="0.8"/><rect x="56.62" y="328.39" width="6" height="6" fill="none" stroke="#f2b000" stroke-width="1.5"/><rect x="72.55" y="328.58" width="6" height="6" fill="none" stroke="#f2b000" stroke-width="1.5"/><rect x="85.22" y="331.98" width="6" height="6" fill="none" stroke="#f2b000" stroke-width="1.5"/><rect x="140.96" y="355.91" width="6" height="6" fill="none" stroke="#f2b000" stroke-width="1.5"/><rect x="154.36" y="334.8" width="6" height="6" fill="none" stroke="#f2b000" stroke-width="1.5"/><rect x="188.21" y="336.87" width="6" height="6" fill="none" stroke="#f2b000" stroke-width="1.5"/><rect x="215.36" y="315.96" width="6" height="6" fill="none" stroke="#f2b000" stroke-width="1.5"/><rect x="301.33" y="362.13" width="6" height="6" fill="none" stroke="#f2b000" stroke-width="1.5"/><rect x="57.12" y="328.33" width="5" height="5" fill="#10e010"/><rect x="73.05" y="332.85" width="5" height="5" fill="#10e010"/><rect x="85.72" y="329.65" width="5" height="5" fill="#10e010"/><rect x="141.46" y="339.82" width="5" height="5" fill="#10e010"/><rect x="154.86" y="360.93" width="5" height="5" fill="#10e010"/><rect x="188.71" y="356.79" width="5" height="5" fill="#10e010"/><rect x="215.86" y="338.51" width="5" height="5" fill="#10e010"/><rect x="301.83" y="375.25" width="5" height="5" fill="#10e010"/>
<g stroke="#8c8c8c" stroke-width="1"><line x1="45.5" y1="492.9" x2="45.5" y2="490.3"/><line x1="45.5" y1="285.6" x2="45.5" y2="288.2"/><line x1="90.75" y1="492.9" x2="90.75" y2="490.3"/><line x1="90.75" y1="285.6" x2="90.75" y2="288.2"/><line x1="136" y1="492.9" x2="136" y2="490.3"/><line x1="136" y1="285.6" x2="136" y2="288.2"/><line x1="181.25" y1="492.9" x2="181.25" y2="490.3"/><line x1="181.25" y1="285.6" x2="181.25" y2="288.2"/><line x1="226.5" y1="492.9" x2="226.5" y2="490.3"/><line x1="226.5" y1="285.6" x2="226.5" y2="288.2"/><line x1="271.75" y1="492.9" x2="271.75" y2="490.3"/><line x1="271.75" y1="285.6" x2="271.75" y2="288.2"/><line x1="317" y1="492.9" x2="317" y2="490.3"/><line x1="317" y1="285.6" x2="317" y2="288.2"/><line x1="45.5" y1="285.6" x2="48.1" y2="285.6"/><line x1="317" y1="285.6" x2="314.4" y2="285.6"/><line x1="45.5" y1="323.29" x2="48.1" y2="323.29"/><line x1="317" y1="323.29" x2="314.4" y2="323.29"/><line x1="45.5" y1="360.98" x2="48.1" y2="360.98"/><line x1="317" y1="360.98" x2="314.4" y2="360.98"/><line x1="45.5" y1="398.67" x2="48.1" y2="398.67"/><line x1="317" y1="398.67" x2="314.4" y2="398.67"/><line x1="45.5" y1="436.36" x2="48.1" y2="436.36"/><line x1="317" y1="436.36" x2="314.4" y2="436.36"/><line x1="45.5" y1="474.05" x2="48.1" y2="474.05"/><line x1="317" y1="474.05" x2="314.4" y2="474.05"/></g>
<rect x="45.5" y="285.6" width="271.5" height="207.3" fill="none" stroke="#b4b4b4" stroke-width="1.7"/>
<g font-size="10.6" fill="#1e1e1e"><text x="41.3" y="289.2" text-anchor="end">2</text><text x="41.3" y="326.89" text-anchor="end">0</text><text x="41.3" y="364.58" text-anchor="end"><tspan dy="-0.8">-</tspan><tspan dy="0.8">2</tspan></text><text x="41.3" y="402.27" text-anchor="end"><tspan dy="-0.8">-</tspan><tspan dy="0.8">4</tspan></text><text x="41.3" y="439.96" text-anchor="end"><tspan dy="-0.8">-</tspan><tspan dy="0.8">6</tspan></text><text x="41.3" y="477.65" text-anchor="end"><tspan dy="-0.8">-</tspan><tspan dy="0.8">8</tspan></text><text x="45.5" y="507.2" text-anchor="middle">0</text><text x="90.75" y="507.2" text-anchor="middle">5</text><text x="136" y="507.2" text-anchor="middle">10</text><text x="181.25" y="507.2" text-anchor="middle">15</text><text x="226.5" y="507.2" text-anchor="middle">20</text><text x="271.75" y="507.2" text-anchor="middle">25</text><text x="317" y="507.2" text-anchor="middle">30</text></g>
<text x="103.9" y="521.3" font-size="11.4" fill="#1e1e1e" textLength="138" lengthAdjust="spacingAndGlyphs">Rotation angle <tspan font-family="Liberation Serif" font-style="italic">&#952;</tspan> (degrees)</text>
<text transform="translate(21 504.7) rotate(-90)" font-size="11.4" fill="#1e1e1e" textLength="206" lengthAdjust="spacingAndGlyphs">Triple junction formation energy f<tspan dy="4.8" font-size="9">p</tspan><tspan dy="-4.8"> (eV)</tspan></text>
<rect x="140.1" y="446.7" width="82.5" height="38" fill="#fff" stroke="#a8a8a8" stroke-width="1"/>
<line x1="143" y1="454.1" x2="160.4" y2="454.1" stroke="#da80e4" stroke-width="1.3" opacity="0.6"/>
<rect x="148.5" y="462.9" width="6" height="6" fill="none" stroke="#f2b000" stroke-width="1.5"/>
<rect x="149" y="475.7" width="5" height="5" fill="#10e010"/>
<text x="162.9" y="457.7" font-size="10" fill="#1e1e1e" textLength="44.1" lengthAdjust="spacingAndGlyphs">PFC3(AC)</text>
<text x="162.9" y="469.8" font-size="10" fill="#1e1e1e" textLength="52.7" lengthAdjust="spacingAndGlyphs">MD(2D, AC)</text>
<text x="162.9" y="481.9" font-size="10" fill="#1e1e1e" textLength="52.7" lengthAdjust="spacingAndGlyphs">MD(3D, AC)</text>
<polygon points="422.84,327.96 437.93,330.79 461.64,334.55 518.47,353.38 546,338.88 572.46,326.27 572.46,335.3 546,359.03 518.47,369.19 461.64,364.67 437.93,360.72 422.84,331.73" fill="#fce7dd" stroke="none"/>
<polyline points="422.84,330.03 437.93,346.22 461.64,350.55 518.47,362.79 546,350.37 572.46,331.35" fill="none" stroke="#ec9470" stroke-width="1.0"/>
<path d="M422.84 328.9L422.84 334.55M420.24 328.9L425.44 328.9M420.24 334.55L425.44 334.55" stroke="#f2b000" stroke-width="1.1" fill="none" opacity="0.8"/><path d="M437.67 396.68L437.67 486.68M435.07 396.68L440.27 396.68M435.07 486.68L440.27 486.68" stroke="#f2b000" stroke-width="1.1" fill="none" opacity="0.8"/><path d="M461.64 356.96L461.64 405.53M459.04 356.96L464.24 356.96M459.04 405.53L464.24 405.53" stroke="#f2b000" stroke-width="1.1" fill="none" opacity="0.8"/><path d="M518.47 341.52L518.47 369.38M515.87 341.52L521.07 341.52M515.87 369.38L521.07 369.38" stroke="#f2b000" stroke-width="1.1" fill="none" opacity="0.8"/><path d="M546 337.75L546 380.68M543.4 337.75L548.6 337.75M543.4 380.68L548.6 380.68" stroke="#f2b000" stroke-width="1.1" fill="none" opacity="0.8"/><path d="M572.46 324.01L572.46 334.93M569.86 324.01L575.06 324.01M569.86 334.93L575.06 334.93" stroke="#f2b000" stroke-width="1.1" fill="none" opacity="0.8"/><path d="M422.84 325.51L422.84 329.84M420.24 325.51L425.44 325.51M420.24 329.84L425.44 329.84" stroke="#10e010" stroke-width="1.1" fill="none" opacity="0.8"/><path d="M437.67 394.61L437.67 470.3M435.07 394.61L440.27 394.61M435.07 470.3L440.27 470.3" stroke="#10e010" stroke-width="1.1" fill="none" opacity="0.8"/><path d="M461.64 340.39L461.64 385.38M459.04 340.39L464.24 340.39M459.04 385.38L464.24 385.38" stroke="#10e010" stroke-width="1.1" fill="none" opacity="0.8"/><path d="M518.47 345.28L518.47 364.3M515.87 345.28L521.07 345.28M515.87 364.3L521.07 364.3" stroke="#10e010" stroke-width="1.1" fill="none" opacity="0.8"/><path d="M546 340.95L546 379.92M543.4 340.95L548.6 340.95M543.4 379.92L548.6 379.92" stroke="#10e010" stroke-width="1.1" fill="none" opacity="0.8"/><path d="M572.46 332.67L572.46 345.09M569.86 332.67L575.06 332.67M569.86 345.09L575.06 345.09" stroke="#10e010" stroke-width="1.1" fill="none" opacity="0.8"/><path d="M422.84 328.5L425.84 332.1L422.84 335.7L419.84 332.1Z" fill="none" stroke="#f2b000" stroke-width="1.4"/><path d="M437.67 436.76L440.67 440.36L437.67 443.96L434.67 440.36Z" fill="none" stroke="#f2b000" stroke-width="1.4"/><path d="M461.64 377.83L464.64 381.43L461.64 385.03L458.64 381.43Z" fill="none" stroke="#f2b000" stroke-width="1.4"/><path d="M518.47 353.17L521.47 356.77L518.47 360.37L515.47 356.77Z" fill="none" stroke="#f2b000" stroke-width="1.4"/><path d="M546 355.8L549 359.4L546 363L543 359.4Z" fill="none" stroke="#f2b000" stroke-width="1.4"/><path d="M572.46 325.87L575.46 329.47L572.46 333.07L569.46 329.47Z" fill="none" stroke="#f2b000" stroke-width="1.4"/><path d="M422.84 323.98L425.74 327.58L422.84 331.18L419.94 327.58Z" fill="#10e010"/><path d="M437.67 428.66L440.57 432.26L437.67 435.86L434.77 432.26Z" fill="#10e010"/><path d="M461.64 359.19L464.54 362.79L461.64 366.39L458.74 362.79Z" fill="#10e010"/><path d="M518.47 351.66L521.37 355.26L518.47 358.86L515.57 355.26Z" fill="#10e010"/><path d="M546 356.37L548.9 359.97L546 363.57L543.1 359.97Z" fill="#10e010"/><path d="M572.46 334.72L575.36 338.32L572.46 341.92L569.56 338.32Z" fill="#10e010"/>
<g stroke="#8c8c8c" stroke-width="1"><line x1="403.3" y1="492.7" x2="403.3" y2="490.1"/><line x1="403.3" y1="285.6" x2="403.3" y2="288.2"/><line x1="447.7" y1="492.7" x2="447.7" y2="490.1"/><line x1="447.7" y1="285.6" x2="447.7" y2="288.2"/><line x1="492.1" y1="492.7" x2="492.1" y2="490.1"/><line x1="492.1" y1="285.6" x2="492.1" y2="288.2"/><line x1="536.5" y1="492.7" x2="536.5" y2="490.1"/><line x1="536.5" y1="285.6" x2="536.5" y2="288.2"/><line x1="580.9" y1="492.7" x2="580.9" y2="490.1"/><line x1="580.9" y1="285.6" x2="580.9" y2="288.2"/><line x1="625.3" y1="492.7" x2="625.3" y2="490.1"/><line x1="625.3" y1="285.6" x2="625.3" y2="288.2"/><line x1="669.7" y1="492.7" x2="669.7" y2="490.1"/><line x1="669.7" y1="285.6" x2="669.7" y2="288.2"/><line x1="403.3" y1="285.6" x2="405.9" y2="285.6"/><line x1="669.7" y1="285.6" x2="667.1" y2="285.6"/><line x1="403.3" y1="323.25" x2="405.9" y2="323.25"/><line x1="669.7" y1="323.25" x2="667.1" y2="323.25"/><line x1="403.3" y1="360.91" x2="405.9" y2="360.91"/><line x1="669.7" y1="360.91" x2="667.1" y2="360.91"/><line x1="403.3" y1="398.56" x2="405.9" y2="398.56"/><line x1="669.7" y1="398.56" x2="667.1" y2="398.56"/><line x1="403.3" y1="436.22" x2="405.9" y2="436.22"/><line x1="669.7" y1="436.22" x2="667.1" y2="436.22"/><line x1="403.3" y1="473.87" x2="405.9" y2="473.87"/><line x1="669.7" y1="473.87" x2="667.1" y2="473.87"/></g>
<rect x="403.3" y="285.6" width="266.4" height="207.1" fill="none" stroke="#b4b4b4" stroke-width="1.7"/>
<g font-size="10.6" fill="#1e1e1e"><text x="399" y="289.2" text-anchor="end">2</text><text x="399" y="326.85" text-anchor="end">0</text><text x="399" y="364.51" text-anchor="end"><tspan dy="-0.8">-</tspan><tspan dy="0.8">2</tspan></text><text x="399" y="402.16" text-anchor="end"><tspan dy="-0.8">-</tspan><tspan dy="0.8">4</tspan></text><text x="399" y="439.82" text-anchor="end"><tspan dy="-0.8">-</tspan><tspan dy="0.8">6</tspan></text><text x="399" y="477.47" text-anchor="end"><tspan dy="-0.8">-</tspan><tspan dy="0.8">8</tspan></text><text x="403.3" y="507.2" text-anchor="middle">0</text><text x="447.7" y="507.2" text-anchor="middle">5</text><text x="492.1" y="507.2" text-anchor="middle">10</text><text x="536.5" y="507.2" text-anchor="middle">15</text><text x="580.9" y="507.2" text-anchor="middle">20</text><text x="625.3" y="507.2" text-anchor="middle">25</text><text x="669.7" y="507.2" text-anchor="middle">30</text></g>
<text x="459.2" y="521.3" font-size="11.4" fill="#1e1e1e" textLength="136.8" lengthAdjust="spacingAndGlyphs">Rotation angle <tspan font-family="Liberation Serif" font-style="italic">&#952;</tspan> (degrees)</text>
<text transform="translate(378.6 504.7) rotate(-90)" font-size="11.4" fill="#1e1e1e" textLength="206" lengthAdjust="spacingAndGlyphs">Triple junction formation energy f<tspan dy="4.8" font-size="9">p</tspan><tspan dy="-4.8"> (eV)</tspan></text>
<rect x="495.2" y="446.2" width="82.5" height="38.2" fill="#fff" stroke="#a8a8a8" stroke-width="1"/>
<line x1="498.1" y1="453.3" x2="515.2" y2="453.3" stroke="#ec9470" stroke-width="1.3" opacity="0.6"/>
<path d="M506.6 461.8L509.6 465.5L506.6 469.2L503.6 465.5Z" fill="none" stroke="#f2b000" stroke-width="1.4"/>
<path d="M506.6 473.3L509.5 477L506.6 480.7L503.7 477Z" fill="#10e010"/>
<text x="518.1" y="456.9" font-size="10" fill="#1e1e1e" textLength="41.5" lengthAdjust="spacingAndGlyphs">PFC3(ZZ)</text>
<text x="518.1" y="468.9" font-size="10" fill="#1e1e1e" textLength="49.7" lengthAdjust="spacingAndGlyphs">MD(2D, ZZ)</text>
<text x="518.1" y="480.8" font-size="10" fill="#1e1e1e" textLength="49.7" lengthAdjust="spacingAndGlyphs">MD(3D, ZZ)</text>
<g font-size="15" fill="#111">
<text x="8.4" y="18.4" textLength="24.4" lengthAdjust="spacing">(a)</text>
<text x="361.6" y="18.4" textLength="24.2" lengthAdjust="spacing">(b)</text>
<text x="6" y="284.6" textLength="22.6" lengthAdjust="spacing">(c)</text>
<text x="365" y="285" textLength="20.2" lengthAdjust="spacing">(d)</text>
</g>
</svg>
</body></html>
